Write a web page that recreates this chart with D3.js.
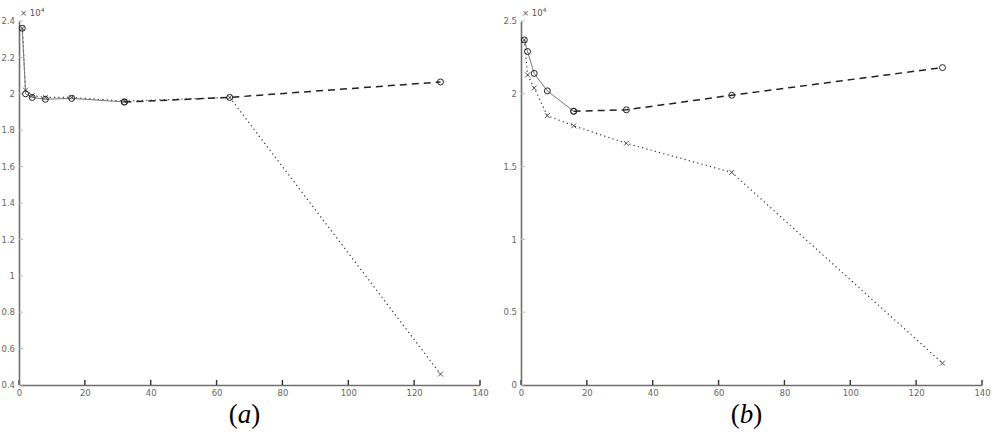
<!DOCTYPE html>
<html><head><meta charset="utf-8">
<script src="https://cdn.jsdelivr.net/npm/d3@7/dist/d3.min.js"></script>
<style>body{margin:0;background:#fff}svg{display:block}</style>
</head><body>
<svg id="c" width="998" height="436"></svg>
<script>
// x values: number of parts (powers of two)
const xsAll = [1, 2, 4, 8, 16, 32, 64, 128];
// Panel (a) values (×10^4)
const aSolidX = [1, 2, 4, 8, 16, 32];
const aSolidY = [2.36, 2.0, 1.98, 1.97, 1.975, 1.955];
const aDashedX = [32, 64, 128];
const aDashedY = [1.955, 1.98, 2.065];
const aDottedY = [2.36, 2.02, 1.99, 1.98, 1.98, 1.96, 1.98, 0.46];
// Panel (b) values (×10^4)
const bSolidX = [1, 2, 4, 8, 16];
const bSolidY = [2.37, 2.29, 2.14, 2.02, 1.88];
const bDashedX = [16, 32, 64, 128];
const bDashedY = [1.88, 1.89, 1.99, 2.18];
const bDottedY = [2.37, 2.13, 2.04, 1.85, 1.78, 1.66, 1.46, 0.15];
// tick labels
const xTicks = [0, 20, 40, 60, 80, 100, 120, 140];
const aYTicks = [0.4, 0.6, 0.8, 1, 1.2, 1.4, 1.6, 1.8, 2, 2.2, 2.4];
const bYTicks = [0, 0.5, 1, 1.5, 2, 2.5];
const captions = ["a", "b"];

const svg = d3.select("#c");

function panel(cfg) {
  const x = d3.scaleLinear().domain([0, 140]).range(cfg.xr);
  const y = d3.scaleLinear().domain(cfg.yd).range([385, 21]);
  const g = svg.append("g");
  // axes
  const xa = g.append("g").attr("transform", "translate(0,385)")
    .call(d3.axisBottom(x).tickValues(xTicks).tickSize(0).tickPadding(5).tickFormat(d3.format("d")));
  xa.select(".domain").attr("stroke", "#6e6e6e").attr("stroke-width", 1.6);
  xa.selectAll("text").attr("fill", "#666").attr("font-size", 8.5).attr("font-family", "DejaVu Sans");
  g.append("g").selectAll("line").data(xTicks).join("line")
    .attr("x1", d => x(d)).attr("x2", d => x(d)).attr("y1", 385).attr("y2", 380)
    .attr("stroke", "#333").attr("stroke-width", 1.4);
  const ya = g.append("g").attr("transform", `translate(${cfg.xr[0]},0)`)
    .call(d3.axisLeft(y).tickValues(cfg.yt).tickSize(0).tickPadding(4).tickFormat(d => String(+d.toFixed(1))));
  ya.select(".domain").attr("stroke", "#6e6e6e").attr("stroke-width", 1.6);
  ya.selectAll("text").attr("fill", "#666").attr("font-size", 8.5).attr("font-family", "DejaVu Sans");
  g.append("g").selectAll("line").data(cfg.yt).join("line")
    .attr("x1", cfg.xr[0]).attr("x2", cfg.xr[0] + 4).attr("y1", d => y(d)).attr("y2", d => y(d))
    .attr("stroke", "#bbb").attr("stroke-width", 1);
  // exponent
  const ex = g.append("text").attr("x", cfg.xr[0] + 1).attr("y", 16)
    .attr("font-size", 8.5).attr("fill", "#555").attr("font-family", "DejaVu Sans");
  ex.append("tspan").text("× 10");
  ex.append("tspan").attr("dy", -4).attr("font-size", 6).text("4");

  const line = d3.line().x(d => x(d[0])).y(d => y(d[1]));
  const dotted = xsAll.map((v, i) => [v, cfg.dot[i]]);
  const solid = cfg.sx.map((v, i) => [v, cfg.sy[i]]);
  const dashed = cfg.dx.map((v, i) => [v, cfg.dy[i]]);
  g.append("path").attr("d", line(dotted)).attr("fill", "none")
    .attr("stroke", "#333").attr("stroke-width", 1.2).attr("stroke-dasharray", "1.2,3.2");
  g.append("path").attr("d", line(solid)).attr("fill", "none")
    .attr("stroke", "#777").attr("stroke-width", 1);
  g.append("path").attr("d", line(dashed)).attr("fill", "none")
    .attr("stroke", "#222").attr("stroke-width", 1.5).attr("stroke-dasharray", "7,5");
  // x markers on dotted
  g.append("g").selectAll("path").data(dotted).join("path")
    .attr("d", d => { const cx = x(d[0]), cy = y(d[1]), s = 2.5;
      return `M${cx-s},${cy-s}L${cx+s},${cy+s}M${cx-s},${cy+s}L${cx+s},${cy-s}`; })
    .attr("stroke", "#444").attr("stroke-width", 0.9);
  // circles
  g.append("g").selectAll("circle").data(solid.concat(dashed)).join("circle")
    .attr("cx", d => x(d[0])).attr("cy", d => y(d[1])).attr("r", 3)
    .attr("fill", "none").attr("stroke", "#222").attr("stroke-width", 1);
  // caption
  const cap = g.append("text").attr("x", (cfg.xr[0] + cfg.xr[1]) / 2 - 5).attr("y", 423)
    .attr("text-anchor", "middle").attr("font-family", "Liberation Serif").attr("font-size", 27).attr("fill", "#000");
  cap.append("tspan").text("(");
  cap.append("tspan").attr("font-style", "italic").text(cfg.cap);
  cap.append("tspan").text(")");
}

panel({xr: [19, 480], yd: [0.4, 2.4], yt: aYTicks, sx: aSolidX, sy: aSolidY, dx: aDashedX, dy: aDashedY, dot: aDottedY, cap: captions[0]});
panel({xr: [521, 982], yd: [0, 2.5], yt: bYTicks, sx: bSolidX, sy: bSolidY, dx: bDashedX, dy: bDashedY, dot: bDottedY, cap: captions[1]});
</script>
</body></html>
